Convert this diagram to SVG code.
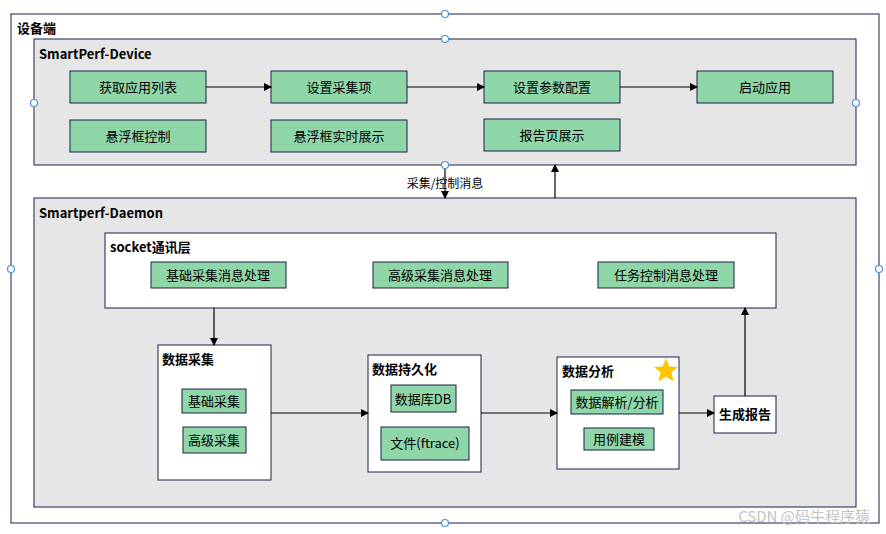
<svg xmlns="http://www.w3.org/2000/svg" width="886" height="534" viewBox="0 0 886 534">
<style>
text{font-family:"Microsoft YaHei","Noto Sans CJK SC",sans-serif;fill:#000}
.g{fill:#8fd6a8;stroke:#1a1f4a;stroke-width:1}
.w{fill:#fff;stroke:#1a1f4a;stroke-width:1}
.grey{fill:#e6e6e6;stroke:#1a1f4a;stroke-width:1}
.t{font-size:13px;text-anchor:middle}
.b{font-size:13px;font-weight:bold}
.h{fill:#fff;stroke:#4a90e2;stroke-width:1.2}
.c{stroke:#000;stroke-width:1.2;fill:none;marker-end:url(#a)}
</style>
<defs><marker id="a" markerWidth="8" markerHeight="8" refX="7" refY="4" orient="auto" markerUnits="userSpaceOnUse"><path d="M0,0 L8,4 L0,8z" fill="#000"/></marker></defs>
<rect width="886" height="534" fill="#fff"/>
<g id="outer"><rect x="11" y="14" width="868" height="509" fill="#fff" stroke="#1a1f4a"/><text x="17" y="33" class="b" font-size="14">设备端</text></g>
<g id="device"><rect class="grey" x="34" y="39" width="822" height="126"/><text x="39" y="59" class="b">SmartPerf-Device</text></g>
<g id="n1"><rect class="g" x="70" y="71" width="136" height="32"/><text class="t" x="138" y="92">获取应用列表</text></g>
<g id="n2"><rect class="g" x="271" y="71" width="136" height="32"/><text class="t" x="339" y="92">设置采集项</text></g>
<g id="n3"><rect class="g" x="484" y="71" width="136" height="32"/><text class="t" x="552" y="92">设置参数配置</text></g>
<g id="n4"><rect class="g" x="697" y="71" width="136" height="32"/><text class="t" x="765" y="92">启动应用</text></g>
<g id="n5"><rect class="g" x="70" y="120" width="136" height="32"/><text class="t" x="138" y="141">悬浮框控制</text></g>
<g id="n6"><rect class="g" x="271" y="120" width="136" height="32"/><text class="t" x="339" y="141">悬浮框实时展示</text></g>
<g id="n7"><rect class="g" x="484" y="119" width="136" height="32"/><text class="t" x="552" y="140">报告页展示</text></g>
<g id="daemon"><rect class="grey" x="34" y="198" width="822" height="309"/><text x="39" y="218" class="b">Smartperf-Daemon</text></g>
<g id="socket"><rect class="w" x="105" y="233" width="671" height="75"/><text x="110" y="252" class="b">socket通讯层</text></g>
<g id="s1"><rect class="g" x="151" y="262" width="135" height="26"/><text class="t" x="218" y="280">基础采集消息处理</text></g>
<g id="s2"><rect class="g" x="373" y="262" width="135" height="26"/><text class="t" x="440" y="280">高级采集消息处理</text></g>
<g id="s3"><rect class="g" x="598" y="262" width="136" height="26"/><text class="t" x="666" y="280">任务控制消息处理</text></g>
<g id="collect"><rect class="w" x="158" y="345" width="113" height="135"/><text x="162" y="364" class="b">数据采集</text></g>
<g id="c1"><rect class="g" x="182" y="389" width="64" height="24"/><text class="t" x="214" y="406">基础采集</text></g>
<g id="c2"><rect class="g" x="183" y="427" width="63" height="26"/><text class="t" x="214" y="445">高级采集</text></g>
<g id="persist"><rect class="w" x="368" y="355" width="113" height="117"/><text x="372" y="374" class="b">数据持久化</text></g>
<g id="p1"><rect class="g" x="391" y="385" width="65" height="27"/><text class="t" x="423" y="404">数据库DB</text></g>
<g id="p2"><rect class="g" x="381" y="427" width="88" height="33"/><text class="t" x="425" y="448">文件(ftrace)</text></g>
<g id="analyze"><rect class="w" x="557" y="357" width="122" height="112"/><text x="562" y="376" class="b">数据分析</text>
<path d="M666,358 L669.3,366.5 L678,367 L671.3,372.6 L673.6,381.5 L666,376.5 L658.4,381.5 L660.7,372.6 L654,367 L662.7,366.5Z" fill="#ffc600"/></g>
<g id="a1"><rect class="g" x="571" y="390" width="92" height="24"/><text class="t" x="617" y="407">数据解析/分析</text></g>
<g id="a2"><rect class="g" x="584" y="428" width="70" height="22"/><text class="t" x="619" y="444">用例建模</text></g>
<g id="report"><rect class="w" x="714" y="396" width="62" height="37"/><text class="t" x="745" y="419" font-weight="bold">生成报告</text></g>
<g id="connectors">
<path class="c" d="M206,87 H271"/><path class="c" d="M407,87 H484"/><path class="c" d="M620,87 H697"/>
<path class="c" d="M445,165 V198"/><path class="c" d="M555,198 V165"/>
<path class="c" d="M214,308 V345"/>
<path class="c" d="M271,413 H368"/><path class="c" d="M481,413 H557"/><path class="c" d="M679,413 H714"/>
<path class="c" d="M745,396 V308"/>
<text x="445" y="188" font-size="12" text-anchor="middle">采集/控制消息</text>
</g>
<g id="handles">
<circle class="h" cx="445" cy="14" r="3.5"/><circle class="h" cx="445" cy="39" r="3.5"/><circle class="h" cx="34" cy="103" r="3.5"/><circle class="h" cx="856" cy="103" r="3.5"/><circle class="h" cx="11" cy="269" r="3.5"/><circle class="h" cx="879" cy="269" r="3.5"/><circle class="h" cx="445" cy="165" r="3.5"/><circle class="h" cx="445" cy="523" r="3.5"/>
</g>
<text x="870" y="522" font-size="15" fill="#bbb" style="fill:#c4c4c4" text-anchor="end">CSDN @码牛程序猿</text>
</svg>
